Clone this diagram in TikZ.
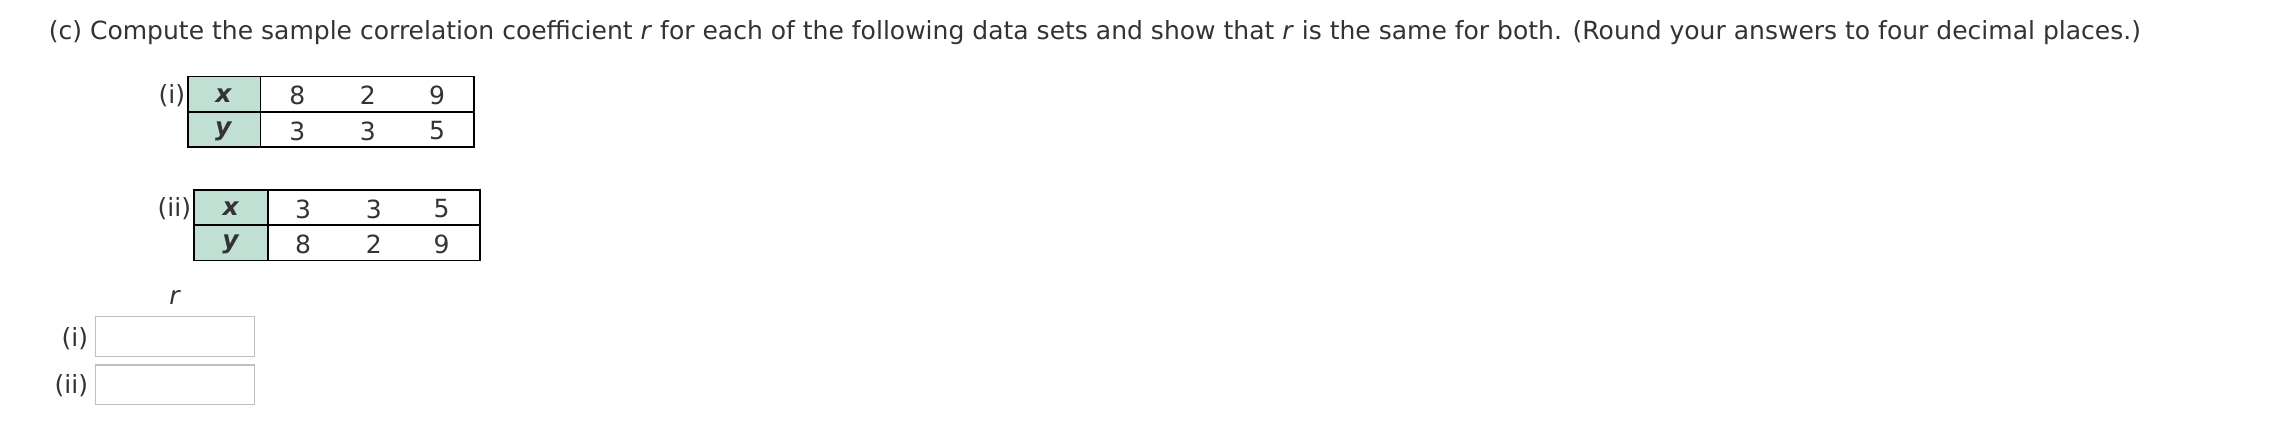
\documentclass[tikz,border=0pt]{standalone}
\usepackage{fontspec}
\setmainfont{DejaVu Sans}
\begin{document}
\begin{tikzpicture}[x=1pt,y=-1pt,
  txt/.style={font=\fontsize{17}{20}\selectfont, text=black!80, inner sep=0pt},
  hdr/.style={fill=hdrgreen, draw=black, line width=1.3pt},
  cell/.style={draw=black, line width=1.3pt},
  ans/.style={draw=black!25, line width=0.8pt}]
\definecolor{hdrgreen}{HTML}{BFE0D2}
\useasboundingbox[fill=white] (0,0) rectangle (1560,285.4);
\node[txt, anchor=base west] (q) at (33,27) {(c) Compute the sample correlation coefficient \textit{r} for each of the following data sets and show that \textit{r} is the same for both. (Round your answers to four decimal places.)};
% table i
\draw[hdr] (128,52) rectangle (177,100);
\draw[cell] (177,52) rectangle (322,100);
\draw[cell] (128,76) -- (322,76);
\node[txt, anchor=east] (li) at (126,65) {(i)};
\node[txt] (ix) at (152,65) {\textbf{\textit{x}}};
\node[txt] (iy) at (152,89) {\textbf{\textit{y}}};
\node[txt] (a1) at (202,65) {8};
\node[txt] (a2) at (250,65) {2};
\node[txt] (a3) at (297,65) {9};
\node[txt] (b1) at (202,89) {3};
\node[txt] (b2) at (250,89) {3};
\node[txt] (b3) at (297,89) {5};
% table ii
\draw[hdr] (132,129) rectangle (182,177);
\draw[cell] (182,129) rectangle (326,177);
\draw[cell] (132,153) -- (326,153);
\node[txt, anchor=east] (lii) at (130,142) {(ii)};
\node[txt] (iix) at (157,142) {\textbf{\textit{x}}};
\node[txt] (iiy) at (157,166) {\textbf{\textit{y}}};
\node[txt] (c1) at (206,142) {3};
\node[txt] (c2) at (254,142) {3};
\node[txt] (c3) at (300,142) {5};
\node[txt] (d1) at (206,166) {8};
\node[txt] (d2) at (254,166) {2};
\node[txt] (d3) at (300,166) {9};
% answers
\node[txt] (r) at (119,202) {\textit{r}};
\draw[ans] (65,215) rectangle (173,242);
\draw[ans] (65,248) rectangle (173,275);
\node[txt, anchor=east] (ai) at (60,230) {(i)};
\node[txt, anchor=east] (aii) at (60,262) {(ii)};
\end{tikzpicture}
\end{document}
